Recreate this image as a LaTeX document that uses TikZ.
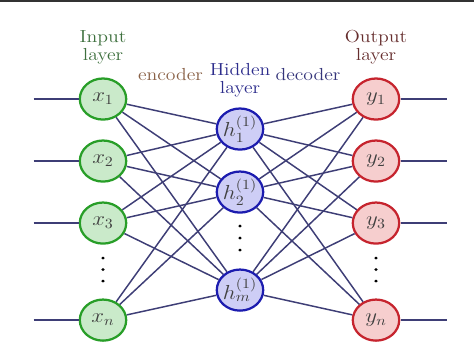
\documentclass[tikz,border=0pt]{standalone}
\usepackage{amsmath, amssymb}
\usepackage{xcolor}
\usepackage{tikz}
\usetikzlibrary{positioning, calc}
\definecolor{inbg}{RGB}{202,234,202}
\definecolor{inframe}{RGB}{40,158,40}
\definecolor{hidbg}{RGB}{206,206,246}
\definecolor{hidframe}{RGB}{28,28,175}
\definecolor{outbg}{RGB}{246,206,206}
\definecolor{outframe}{RGB}{198,36,46}
\definecolor{wire}{RGB}{62,62,118}
\definecolor{intext}{RGB}{62,112,62}
\definecolor{enctext}{RGB}{138,98,72}
\definecolor{hidtext}{RGB}{45,45,140}
\definecolor{dectext}{RGB}{52,52,122}
\definecolor{outtext}{RGB}{102,46,46}
\definecolor{topbar}{RGB}{50,50,50}

\begin{document}
\begin{tikzpicture}[
        x=0.629pt, y=-0.711pt, xscale=1.13,
        every node/.append style={transform shape},
        font=\fontsize{12.4}{12.4}\selectfont,
        neuron/.style={circle, minimum size=29.2pt, inner sep=0pt, line width=1.6pt, text=black!75, font=\fontsize{14.3}{14.3}\selectfont},
        inneuron/.style={neuron, fill=inbg, draw=inframe},
        hidneuron/.style={neuron, fill=hidbg, draw=hidframe},
        outneuron/.style={neuron, fill=outbg, draw=outframe},
        layerlabel/.style={align=center, inner sep=0pt},
        wire/.style={draw=wire, line width=1.05pt}
    ]
    \useasboundingbox (0,0) rectangle (474,343);
    \fill[topbar] (0,0) rectangle (474,2.3);

    % input layer
    \node[inneuron] (in1) at (103,99) {$x_1$};
    \node[inneuron] (in2) at (103,161) {$x_2$};
    \node[inneuron] (in3) at (103,223) {$x_3$};
    \node[inneuron] (inn) at (103,320) {$x_n$};

    % hidden layer
    \node[hidneuron] (hid1) at (240,129) {$h_1^{(1)}$};
    \node[hidneuron] (hid2) at (240,192) {$h_2^{(1)}$};
    \node[hidneuron] (hidm) at (240,290) {$h_m^{(1)}$};

    % output layer
    \node[outneuron] (out1) at (376,99) {$y_1$};
    \node[outneuron] (out2) at (376,161) {$y_2$};
    \node[outneuron] (out3) at (376,223) {$y_3$};
    \node[outneuron] (outn) at (376,320) {$y_n$};

    % labels
    \node[layerlabel, text=intext, above=9.3pt of in1] (inlabel) {Input\\layer};
    \node[layerlabel, text=hidtext, above=7.2pt of hid1] (hidlabel) {Hidden\\layer};
    \node[layerlabel, text=outtext, above=9.3pt of out1] (outlabel) {Output\\layer};
    \node[anchor=base, text=enctext] (enclabel) at (170.5,80) {encoder};
    \node[anchor=base, text=dectext] (declabel) at (308,80) {decoder};

    % dots
    \foreach \k in {258,269.5,281} {
        \fill (103,\k) circle (1.1pt);
        \fill (376,\k) circle (1.1pt);
    }
    \foreach \k in {226,238,250}
        \fill (240,\k) circle (1.1pt);

    % leads
    \foreach \n in {1,2,3,n} {
        \coordinate (inlead\n) at ($(in\n.west)+(-45,0)$);
        \coordinate (outlead\n) at ($(out\n.east)+(46,0)$);
        \draw[wire] (inlead\n) -- (in\n);
        \draw[wire] (out\n) -- (outlead\n);
    }

    % connections
    \foreach \i in {1,2,3,n}
        \foreach \j in {1,2,m} {
            \draw[wire] (in\i) -- (hid\j);
            \draw[wire] (hid\j) -- (out\i);
        }

    \end{tikzpicture}
\end{document}
